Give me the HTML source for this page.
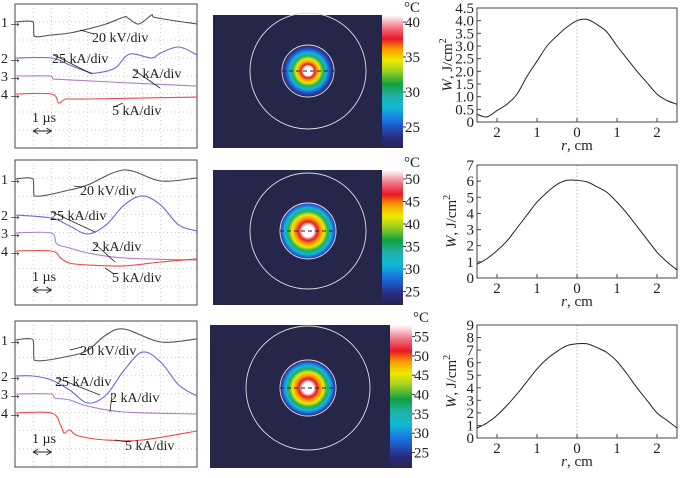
<!DOCTYPE html>
<html><head><meta charset="utf-8"><style>
body{margin:0;background:#fff;width:685px;height:478px;overflow:hidden}
svg{display:block;font-family:"Liberation Serif",serif}
</style></head><body>
<svg id="fig" width="685" height="478" viewBox="0 0 685 478" xmlns="http://www.w3.org/2000/svg">
<defs>
<linearGradient id="cbar" x1="0" y1="1" x2="0" y2="0">
<stop offset="0" stop-color="#26264a"/><stop offset="0.08" stop-color="#2a2a80"/><stop offset="0.2" stop-color="#1a6ee0"/><stop offset="0.3" stop-color="#10b8d8"/><stop offset="0.4" stop-color="#20b0a0"/><stop offset="0.48" stop-color="#10a040"/><stop offset="0.58" stop-color="#a0d020"/><stop offset="0.66" stop-color="#f0e800"/><stop offset="0.74" stop-color="#f8a000"/><stop offset="0.82" stop-color="#e81828"/><stop offset="0.9" stop-color="#f07080"/><stop offset="1" stop-color="#ffffff"/>
</linearGradient>
<radialGradient id="spot1" cx="0.5" cy="0.5" r="0.5">
<stop offset="0" stop-color="#fff"/><stop offset="0.18" stop-color="#fff"/><stop offset="0.26" stop-color="#e81828"/><stop offset="0.36" stop-color="#f8a000"/><stop offset="0.46" stop-color="#f0e800"/><stop offset="0.58" stop-color="#20b060"/><stop offset="0.7" stop-color="#10b8d8"/><stop offset="0.85" stop-color="#2a4ad0"/><stop offset="1" stop-color="#26264a"/>
</radialGradient>
<radialGradient id="spot2" cx="0.5" cy="0.5" r="0.5">
<stop offset="0" stop-color="#fff"/><stop offset="0.2" stop-color="#fff"/><stop offset="0.32" stop-color="#e81828"/><stop offset="0.45" stop-color="#f8a000"/><stop offset="0.56" stop-color="#f0e800"/><stop offset="0.68" stop-color="#20b060"/><stop offset="0.8" stop-color="#10b8d8"/><stop offset="0.93" stop-color="#2a4ad0"/><stop offset="1" stop-color="#26264a"/>
</radialGradient>
</defs>
</svg>
<script>
// ---------- data ----------
const rVals=[-2.5,-2.25,-2,-1.75,-1.5,-1.25,-1,-0.75,-0.5,-0.25,0,0.25,0.5,0.75,1,1.25,1.5,1.75,2,2.25,2.5];
const w1=[0.3,0.2,0.45,0.7,1.1,1.8,2.4,3.0,3.4,3.75,4.0,4.05,3.85,3.55,3.0,2.5,2.0,1.55,1.1,0.85,0.7];
const w2=[0.85,1.2,1.7,2.3,3.1,3.9,4.7,5.3,5.8,6.05,6.05,5.95,5.65,5.3,4.7,4.0,3.2,2.4,1.6,1.0,0.5];
const w3=[0.8,1.2,1.8,2.6,3.5,4.5,5.5,6.3,6.9,7.35,7.5,7.5,7.2,6.8,6.1,5.1,4.0,3.0,2.0,1.4,0.8];
const xTickVals=[-2,-1,0,1,2];
const xTickLabels=["2","1","0","1","2"];
const yTicks1=[0,0.5,1,1.5,2,2.5,3,3.5,4,4.5];
const yTickLabels1=["0","0.5","1.0","1.5","2.0","2.5","3.0","3.5","4.0","4.5"];
const yTicks2=[0,1,2,3,4,5,6,7];
const yTicks3=[0,1,2,3,4,5,6,7,8,9];
const cbTicks1=[25,30,35,40];
const cbTicks2=[25,30,35,40,45,50];
const cbTicks3=[25,30,35,40,45,50,55];
// oscilloscope traces: time (us) and values (div, 18px/div)
const s1t1=[0,1,1.05,2,3,4,5,6,6.2,6.8,7.5,7.6,8.5,10], s1v1=[0,0,-0.78,-0.72,-0.61,-0.39,-0.11,0.28,0.22,-0.11,0.39,0.28,0.11,-0.11];
const s1t2=[0,2,3,4,4.5,5.5,6.3,7.5,8,9,10], s1v2=[0,0,-0.39,-0.78,-0.83,-0.56,0.22,0,0.28,0.61,0.17];
const s1t3=[0,2,2.1,10], s1v3=[0,0,-0.17,-0.56];
const s1t4=[0,2,2.4,2.8,4,10], s1v4=[0,0,-0.5,-0.28,-0.28,-0.17];
const s2t1=[0,1,1.05,3,4,6,8,10], s2v1=[0,0,-0.94,-0.61,-0.33,0.5,-0.11,0.06];
const s2t2=[0,2,3,4,5,6,7,8,9,10], s2v2=[0,-0.17,-0.61,-1.06,-0.56,0.56,1.06,0.56,-0.56,-0.89];
const s2t3=[0,2,2.3,3,4,6,10], s2v3=[0,0,-0.61,-0.83,-1.11,-1.39,-1.5];
const s2t4=[0,2,2.5,3,4,6,8,10], s2v4=[0,0,-0.39,-0.67,-0.78,-0.83,-0.61,-0.44];
const s3t1=[0,1,1.05,3,4,5,6,8,10], s3v1=[0,0,-1.11,-0.89,-0.56,0.28,0.61,-0.11,0.06];
const s3t2=[0,1,2,3,4,5,6,7,8,9,10], s3v2=[0,0,-0.22,-0.78,-1.5,-1.06,0.33,1.33,0.78,-0.5,-1.11];
const s3t3=[0,2,2.2,3,4,6,10], s3v3=[0,0,-0.22,-0.33,-0.67,-1.0,-1.11];
const s3t4=[0,2,2.5,2.7,3,3.5,5,7,10], s3v4=[0,0,-0.67,-1.11,-0.94,-1.28,-1.5,-1.5,-1.0];

const NS="http://www.w3.org/2000/svg";
const svg=document.getElementById('fig');
function mk(tag,attrs,parent,txt){const e=document.createElementNS(NS,tag);for(const k in attrs)e.setAttribute(k,attrs[k]);if(txt!==undefined)e.textContent=txt;(parent||svg).appendChild(e);return e;}
function smooth(pts){
 let d='M'+pts[0][0].toFixed(1)+','+pts[0][1].toFixed(1);
 for(let i=0;i<pts.length-1;i++){
  const p0=pts[Math.max(0,i-1)],p1=pts[i],p2=pts[i+1],p3=pts[Math.min(pts.length-1,i+2)];
  const k=1/6;
  const c1=[p1[0]+(p2[0]-p0[0])*k,p1[1]+(p2[1]-p0[1])*k];
  const c2=[p2[0]-(p3[0]-p1[0])*k,p2[1]-(p3[1]-p1[1])*k];
  c1[0]=Math.min(Math.max(c1[0],p1[0]),p2[0]);c2[0]=Math.min(Math.max(c2[0],p1[0]),p2[0]);
  d+=` C${c1[0].toFixed(1)},${c1[1].toFixed(1)} ${c2[0].toFixed(1)},${c2[1].toFixed(1)} ${p2[0].toFixed(1)},${p2[1].toFixed(1)}`;
 }
 return d;
}

// ---------- oscilloscopes ----------
const scopes=[
 {y0:4,h:144,bases:[22,58,76,94],tr:[[s1t1,s1v1],[s1t2,s1v2],[s1t3,s1v3],[s1t4,s1v4]],
  labels:[["20 kV/div",92,42,80,30],["25 kA/div",52,63,92,74],["2 kA/div",132,78,160,88],["5 kA/div",112,115,123,103]],us:122},
 {y0:160,h:145,bases:[179,215,233,251],tr:[[s2t1,s2v1],[s2t2,s2v2],[s2t3,s2v3],[s2t4,s2v4]],
  labels:[["20 kV/div",80,195,74,186],["25 kA/div",50,220,95,232],["2 kA/div",92,251,115,262],["5 kA/div",112,282,105,268]],us:281},
 {y0:321,h:146,bases:[340,376,394,413],tr:[[s3t1,s3v1],[s3t2,s3v2],[s3t3,s3v3],[s3t4,s3v4]],
  labels:[["20 kV/div",80,355,70,350],["25 kA/div",55,386,100,395],["2 kA/div",110,402,110,412],["5 kA/div",125,450,115,440]],us:443}
];
const colors=["#555","#6a6ad8","#b07ccc","#f04848"];
const sx0=15,sw=182;
const tx=t=>sx0+t*sw/10;
scopes.forEach((s,si)=>{
 const g=mk('g',{},svg);
 
 
 mk('rect',{x:sx0,y:s.y0,width:sw,height:s.h,fill:'#fff',stroke:'#444','stroke-width':1},g);
 for(let i=1;i<10;i++)mk('line',{x1:tx(i),x2:tx(i),y1:s.y0,y2:s.y0+s.h,stroke:'#bbb','stroke-dasharray':'1 3','stroke-width':0.7},g);
 for(let i=1;i<8;i++){const yy=s.y0+i*s.h/8;mk('line',{x1:sx0,x2:sx0+sw,y1:yy,y2:yy,stroke:'#bbb','stroke-dasharray':'1 3','stroke-width':0.7},g);}
 s.tr.forEach((tr,ci)=>{
   const [ts,vs]=tr;const base=s.bases[ci];
   const pts=ts.map((t,i)=>[tx(t),base-vs[i]*18]);
   const p=mk('path',{d:smooth(pts),fill:'none',stroke:colors[ci],'stroke-width':1.1},g);
   
   
   const cl=mk('text',{x:1,y:base+5,'font-size':14,fill:'#222'},g,(ci+1)+'→');
   
   
 });
 s.labels.forEach(l=>{
   const t=mk('text',{x:l[1],y:l[2],'font-size':14,fill:'#222'},g,l[0]);
   
   
   mk('line',{x1:l[1]+2,y1:l[2]-8,x2:l[3],y2:l[4],stroke:'#222','stroke-width':0.8},g);
 });
 const u=mk('text',{x:32,y:s.us,'font-size':14,fill:'#222'},g,'1 µs');
 
 
 mk('line',{x1:tx(1),x2:tx(2),y1:s.us+9,y2:s.us+9,stroke:'#222','stroke-width':0.9},g);
 mk('path',{d:`M${tx(1)+5},${s.us+6} L${tx(1)},${s.us+9} L${tx(1)+5},${s.us+12} M${tx(2)-5},${s.us+6} L${tx(2)},${s.us+9} L${tx(2)-5},${s.us+12}`,fill:'none',stroke:'#222','stroke-width':0.9},g);
});

// ---------- thermal images ----------
const heat=[
 {x:213,y:15,w:169,h:133,cx:308,cy:71,R:58,r:26,sr:26,grad:'spot1',tmin:22,tmax:41,ticks:cbTicks1,cbx:382,cbw:21},
 {x:213,y:170,w:169,h:135,cx:308,cy:231,R:58,r:28,sr:29,grad:'spot2',tmin:22,tmax:52,ticks:cbTicks2,cbx:382,cbw:21},
 {x:210,y:325,w:180,h:143,cx:308,cy:388,R:62,r:28,sr:28,grad:'spot2',tmin:21,tmax:58,ticks:cbTicks3,cbx:390,cbw:22}
];
heat.forEach((h,hi)=>{
 const g=mk('g',{},svg);
 
 
 mk('rect',{x:h.x,y:h.y,width:h.w,height:h.h,fill:'#26264a'},g);
 mk('circle',{cx:h.cx,cy:h.cy,r:h.sr,fill:'url(#'+h.grad+')'},g);
 mk('circle',{cx:h.cx,cy:h.cy,r:h.R,fill:'none',stroke:'#ddd','stroke-width':0.9},g);
 mk('circle',{cx:h.cx,cy:h.cy,r:h.r,fill:'none',stroke:'#ddd','stroke-width':0.9},g);
 mk('line',{x1:h.cx-h.r,x2:h.cx+h.r,y1:h.cy,y2:h.cy,stroke:'#222','stroke-dasharray':'4 3','stroke-width':1},g);
 const cb=mk('rect',{x:h.cbx,y:h.y,width:h.cbw,height:h.h,fill:'url(#cbar)'},g);
 
 
 const ty=v=>h.y+h.h-(v-h.tmin)/(h.tmax-h.tmin)*h.h;
 h.ticks.forEach(v=>{
   mk('line',{x1:h.cbx+h.cbw,x2:h.cbx+h.cbw+3,y1:ty(v),y2:ty(v),stroke:'#333'},g);
   const t=mk('text',{x:h.cbx+h.cbw+2,y:ty(v)+5,'font-size':15,fill:'#222'},g,String(v));
   
   
 });
 const u=mk('text',{x:h.cbx+h.cbw+1,y:h.y-3,'font-size':15,fill:'#222'},g,'°C');
 
 
});

// ---------- profile charts ----------
const charts=[
 {y0:8,y1:122,ymax:4.5,w:w1,ticks:yTicks1,labels:yTickLabels1},
 {y0:165,y1:278,ymax:7,w:w2,ticks:yTicks2,labels:yTicks2.map(String)},
 {y0:325,y1:438,ymax:9,w:w3,ticks:yTicks3,labels:yTicks3.map(String)}
];
const px0=477,px1=677;
const xs=r=>px0+(r+2.5)/5*(px1-px0);
charts.forEach((c,ci)=>{
 const g=mk('g',{},svg);
 
 
 const ys=v=>c.y1-v/c.ymax*(c.y1-c.y0);
 mk('line',{x1:xs(0),x2:xs(0),y1:c.y0,y2:c.y1,stroke:'#bbb','stroke-dasharray':'1.5 2'},g);
 mk('rect',{x:px0,y:c.y0,width:px1-px0,height:c.y1-c.y0,fill:'none',stroke:'#444','stroke-width':1},g);
 c.ticks.forEach((v,i)=>{
   mk('line',{x1:px0,x2:px0+4,y1:ys(v),y2:ys(v),stroke:'#444'},g);
   const t=mk('text',{x:px0-3,y:ys(v)+5,'font-size':15,'text-anchor':'end',fill:'#222'},g,c.labels[i]);
   
   
 });
 xTickVals.forEach((v,i)=>{
   mk('line',{x1:xs(v),x2:xs(v),y1:c.y1,y2:c.y1-4,stroke:'#444'},g);
   const t=mk('text',{x:xs(v),y:c.y1+15,'font-size':15,'text-anchor':'middle',fill:'#222'},g,xTickLabels[i]);
   
   
 });
 const pts=rVals.map((r,i)=>[xs(r),ys(c.w[i])]);
 const p=mk('path',{d:smooth(pts),fill:'none',stroke:'#222','stroke-width':1},g);
 
 
 const xl=mk('text',{x:xs(0),y:c.y1+28,'font-size':15,'text-anchor':'middle',fill:'#222'},g);
 xl.innerHTML='<tspan font-style="italic">r</tspan>, cm';
 
 
 const cy=(c.y0+c.y1)/2;
 const yl=mk('text',{x:0,y:0,'font-size':15,'text-anchor':'middle',fill:'#222',transform:`translate(${ci==0?452:456},${cy}) rotate(-90)`},g);
 yl.innerHTML='<tspan font-style="italic">W</tspan>, J/cm<tspan font-size="10" dy="-6">2</tspan>';
 
 
});
</script>
</body></html>
